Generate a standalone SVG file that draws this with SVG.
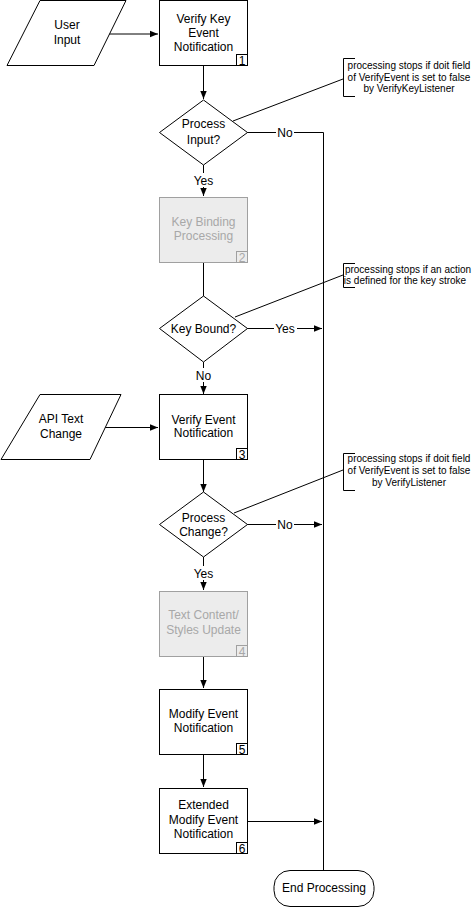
<svg xmlns="http://www.w3.org/2000/svg" width="474" height="908" viewBox="0 0 474 908">
<defs>
<marker id="arr" viewBox="0 0 8 8" refX="8" refY="4" markerWidth="8" markerHeight="8" markerUnits="userSpaceOnUse" orient="auto"><path d="M0,0.8 L8,4 L0,7.2 Z" fill="#000"/></marker>
</defs>
<style>
text{font-family:"Liberation Sans",Arial,sans-serif;font-size:12px;text-anchor:middle;fill:#000}
.box{fill:#fff;stroke:#000;stroke-width:1}
.grey{fill:#ececec;stroke:#a0a0a0;stroke-width:1}
.gt{fill:#a8a8a8}
.num{font-size:12px}
.ann{font-size:10px}
.ln{fill:none;stroke:#000;stroke-width:1}
.lbl{fill:#fff}
</style>
<rect width="474" height="908" fill="#fff"/>
<g id="connectors">
<path class="ln" d="M109,34 H158" marker-end="url(#arr)"/>
<path class="ln" d="M203.5,65 V99" marker-end="url(#arr)"/>
<path class="ln" d="M203.5,165 V196" marker-end="url(#arr)"/>
<path class="ln" d="M247,132.5 H323.5 V870"/>
<path class="ln" d="M203.5,263 V297"/>
<path class="ln" d="M247,328.5 H322" marker-end="url(#arr)"/>
<path class="ln" d="M203.5,362 V394" marker-end="url(#arr)"/>
<path class="ln" d="M105,427.5 H158" marker-end="url(#arr)"/>
<path class="ln" d="M203.5,459 V492" marker-end="url(#arr)"/>
<path class="ln" d="M247,524.5 H322" marker-end="url(#arr)"/>
<path class="ln" d="M203.5,557 V590" marker-end="url(#arr)"/>
<path class="ln" d="M203.5,656 V688" marker-end="url(#arr)"/>
<path class="ln" d="M203.5,754 V787" marker-end="url(#arr)"/>
<path class="ln" d="M247,821.5 H322" marker-end="url(#arr)"/>
<path class="ln" d="M233,121 L343,79"/>
<path class="ln" d="M235,317 L343,275"/>
<path class="ln" d="M234,513 L343,470"/>
<rect class="lbl" x="276" y="125" width="18" height="14"/>
<text x="285" y="136.5">No</text>
<rect class="lbl" x="192" y="173" width="23" height="14"/>
<text x="203.5" y="184.5">Yes</text>
<rect class="lbl" x="274" y="321" width="23" height="14"/>
<text x="285" y="332.5">Yes</text>
<rect class="lbl" x="195" y="368" width="18" height="14"/>
<text x="203.5" y="379.5">No</text>
<rect class="lbl" x="276" y="517" width="18" height="14"/>
<text x="285" y="528.5">No</text>
<rect class="lbl" x="192" y="566" width="23" height="14"/>
<text x="203.5" y="577.5">Yes</text>
</g>
<g id="user-input">
<polygon class="box" points="40,0.5 126,0.5 94,65.5 7,65.5"/>
<text x="67" y="29">User</text>
<text x="67" y="44">Input</text>
</g>
<g id="node1">
<rect class="box" x="159.5" y="0.5" width="88" height="65"/>
<text x="203.5" y="23">Verify Key</text>
<text x="203.5" y="37">Event</text>
<text x="203.5" y="51">Notification</text>
<rect class="box" x="236.5" y="54.5" width="11" height="11"/>
<text class="num" x="242" y="64.5">1</text>
</g>
<g id="decision-process-input">
<polygon class="box" points="203.5,100 247.5,132.5 203.5,165 159.5,132.5"/>
<text x="203.5" y="128">Process</text>
<text x="203.5" y="144">Input?</text>
</g>
<g id="note1">
<path class="ln" d="M355,58.5 H343.5 V96.5 H355"/>
<text class="ann" x="409" y="68.5">processing stops if doit field</text>
<text class="ann" x="409" y="80.5">of VerifyEvent is set to false</text>
<text class="ann" x="409" y="92">by VerifyKeyListener</text>
</g>
<g id="node2">
<rect class="grey" x="159.5" y="197.5" width="88" height="65"/>
<text class="gt" x="203.5" y="226">Key Binding</text>
<text class="gt" x="203.5" y="240">Processing</text>
<rect class="grey" x="236.5" y="251.5" width="11" height="11"/>
<text class="num gt" x="242" y="261.5">2</text>
</g>
<g id="decision-key-bound">
<polygon class="box" points="203.5,296 247.5,328.5 203.5,362 159.5,328.5"/>
<text x="203.5" y="332.5">Key Bound?</text>
</g>
<g id="note2">
<path class="ln" d="M355,263.5 H343.5 V287.5 H355"/>
<text class="ann" x="408" y="272.5">processing stops if an action</text>
<text class="ann" x="405" y="284">is defined for the key stroke</text>
</g>
<g id="api-text-change">
<polygon class="box" points="40,394.5 121,394.5 90,459.5 1,459.5"/>
<text x="61" y="423">API Text</text>
<text x="61" y="438">Change</text>
</g>
<g id="node3">
<rect class="box" x="159.5" y="394.5" width="88" height="65"/>
<text x="203.5" y="424">Verify Event</text>
<text x="203.5" y="437">Notification</text>
<rect class="box" x="236.5" y="448.5" width="11" height="11"/>
<text class="num" x="242" y="458.5">3</text>
</g>
<g id="decision-process-change">
<polygon class="box" points="203.5,492 247.5,524.5 203.5,557 159.5,524.5"/>
<text x="203.5" y="522">Process</text>
<text x="203.5" y="536">Change?</text>
</g>
<g id="note3">
<path class="ln" d="M355,453.5 H343.5 V490.5 H355"/>
<text class="ann" x="409" y="461.5">processing stops if doit field</text>
<text class="ann" x="409" y="473.5">of VerifyEvent is set to false</text>
<text class="ann" x="409" y="485.5">by VerifyListener</text>
</g>
<g id="node4">
<rect class="grey" x="159.5" y="591.5" width="88" height="65"/>
<text class="gt" x="203.5" y="619">Text Content/</text>
<text class="gt" x="203.5" y="634">Styles Update</text>
<rect class="grey" x="236.5" y="645.5" width="11" height="11"/>
<text class="num gt" x="242" y="655.5">4</text>
</g>
<g id="node5">
<rect class="box" x="159.5" y="689.5" width="88" height="65"/>
<text x="203.5" y="718">Modify Event</text>
<text x="203.5" y="732">Notification</text>
<rect class="box" x="236.5" y="743.5" width="11" height="11"/>
<text class="num" x="242" y="753.5">5</text>
</g>
<g id="node6">
<rect class="box" x="159.5" y="788.5" width="88" height="65"/>
<text x="203.5" y="809">Extended</text>
<text x="203.5" y="824">Modify Event</text>
<text x="203.5" y="838">Notification</text>
<rect class="box" x="236.5" y="842.5" width="11" height="11"/>
<text class="num" x="242" y="852.5">6</text>
</g>
<g id="end-processing">
<rect class="box" x="274" y="870.5" width="100" height="36" rx="16" ry="16"/>
<text x="324" y="892">End Processing</text>
</g>
</svg>
